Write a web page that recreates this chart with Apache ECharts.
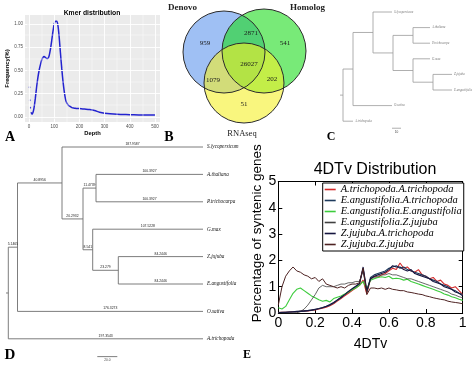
<!DOCTYPE html>
<html><head><meta charset="utf-8">
<script src="https://cdn.jsdelivr.net/npm/echarts@6/dist/echarts.min.js"></script>
<style>html,body{margin:0;padding:0;background:#fff}#c{width:474px;height:366px}</style>
</head><body><div id="c"></div>
<script>
// ---------------- Panel A : Kmer distribution ----------------
const kmerDepthDots = [2, 3, 5];
const kmerFreqDots = [0.32, 0.18, 0.10];
const kmerDepth = [8,12,16,20,25,30,35,40,45,50,55,60,65,70,75,80,85,90,95,100,105,110,115,120,125,130,135,140,145,150,155,160,170,180,190,200,220,240,260,280,300,350,400,450,500];
const kmerFreq = [0.05,0.03,0.05,0.10,0.20,0.32,0.42,0.50,0.56,0.61,0.64,0.65,0.64,0.63,0.63,0.66,0.73,0.82,0.92,1.00,1.03,1.03,0.98,0.85,0.68,0.52,0.38,0.27,0.19,0.15,0.13,0.12,0.10,0.095,0.09,0.09,0.085,0.08,0.07,0.05,0.04,0.03,0.025,0.02,0.02];
const kmerXTicks = [0,100,200,300,400,500];
const kmerXMinor = [50,150,250,350,450];
const kmerYTicks = [0,0.25,0.5,0.75,1.0];
const kmerYMinor = [0.125,0.375,0.625,0.875];

// ---------------- Panel B : Venn ----------------
const vennSets = ["Denovo","Homolog","RNAseq"];
const vennRegions = ["Denovo only","Denovo&Homolog","Homolog only","All","Denovo&RNAseq","Homolog&RNAseq","RNAseq only"];
const vennCounts = [959, 2871, 541, 26027, 1079, 202, 51];

// ---------------- Trees (panels C and D) ----------------
const treeLeaves = ["S.lycopersicum","A.thaliana","P.trichocarpa","G.max","Z.jujuba","E.angustifolia","O.sativa","A.trichopoda"];
const treeInternal = ["root","N1","N2","N3","N4","N5","N6"];
const treeChildren = [["N1","A.trichopoda"],["N2","O.sativa"],["S.lycopersicum","N3"],["N4","N5"],["A.thaliana","P.trichocarpa"],["G.max","N6"],["Z.jujuba","E.angustifolia"]];
// panel D node depths (drawn units, scale bar = 20)
const treeDInternalDepth = [0, 9.2, 53.7, 74.7, 87.7, 84.4, 110];
const treeDLeafDepth = [194.7,194.7,194.7,194.7,194.7,194.7,194.7,194.7];
const treeDInternalLabel = ["", "5.1465", "40.8956", "20.2932", "11.4739", "8.541", "23.279"];
const treeDLeafLabel = ["187.9587","100.3927","100.3927","107.5228","84.2446","84.2446","176.3273","197.3543"];
const treeDScale = 20, treeDScaleLabel = "20.0";
// panel C node depths
const treeCInternalDepth = [0, 10, 30, 50, 70, 70, 90];
const treeCLeafDepth = [49, 87, 87, 87, 109, 109, 49, 10];
const treeCScale = 9, treeCScaleLabel = "10";

// ---------------- Panel E : 4DTv ----------------
const fdtvBins = [0,0.02,0.04,0.06,0.08,0.10,0.12,0.14,0.16,0.18,0.20,0.22,0.24,0.26,0.28,0.30,0.32,0.34,0.36,0.38,0.40,0.42,0.44,0.46,0.48,0.50,0.52,0.54,0.56,0.58,0.60,0.62,0.64,0.66,0.68,0.70,0.72,0.74,0.76,0.78,0.80,0.82,0.84,0.86,0.88,0.90,0.92,0.94,0.96,0.98,1.00];
const fdtvNames = ["A.trichopoda.A.trichopoda","E.angustifolia.A.trichopoda","E.angustifolia.E.angustifolia","E.angustifolia.Z.jujuba","Z.jujuba.A.trichopoda","Z.jujuba.Z.jujuba"];
const fdtvAtriAtri = [0.02,0.03,0.03,0.04,0.05,0.05,0.06,0.07,0.08,0.10,0.12,0.15,0.18,0.22,0.28,0.35,0.45,0.55,0.65,0.75,0.85,0.95,1.05,1.25,0.72,1.30,1.40,1.35,1.45,1.50,1.60,1.70,1.65,1.90,1.70,1.75,1.60,1.55,1.65,1.45,1.40,1.30,1.35,1.20,1.25,1.10,1.05,0.95,1.00,0.85,0.70];
const fdtvEangAtri = [0.02,0.02,0.03,0.04,0.04,0.05,0.06,0.07,0.09,0.11,0.13,0.16,0.20,0.25,0.30,0.38,0.48,0.58,0.70,0.80,0.90,1.00,1.10,1.70,0.80,1.35,1.45,1.50,1.55,1.60,1.70,1.75,1.80,1.70,1.75,1.65,1.60,1.55,1.50,1.45,1.40,1.30,1.25,1.20,1.10,1.05,1.00,0.90,0.85,0.75,0.70];
const fdtvEangEang = [0.20,0.15,0.25,0.50,0.75,0.90,0.95,0.85,0.75,0.65,0.58,0.50,0.45,0.48,0.42,0.55,0.60,0.65,0.72,0.80,0.88,0.95,1.05,1.20,0.90,1.25,1.30,1.35,1.38,1.35,1.40,1.30,1.32,1.30,1.25,1.28,1.20,1.15,1.10,1.05,1.00,0.95,0.90,0.85,0.80,0.72,0.68,0.62,0.58,0.52,0.48];
const fdtvEangZjuj = [0.00,0.00,0.00,0.00,0.00,0.01,0.05,0.15,0.30,0.50,0.70,0.95,1.05,1.00,1.00,1.00,1.05,1.10,1.10,1.15,1.15,1.20,1.20,1.60,0.80,1.30,1.35,1.40,1.45,1.45,1.50,1.45,1.45,1.40,1.35,1.30,1.30,1.25,1.20,1.15,1.10,1.05,1.00,0.95,0.90,0.85,0.80,0.72,0.68,0.62,0.58];
const fdtvZjujAtri = [0.02,0.03,0.03,0.04,0.05,0.06,0.07,0.08,0.09,0.11,0.14,0.17,0.21,0.26,0.32,0.40,0.50,0.60,0.70,0.82,0.92,1.02,1.12,1.75,0.85,1.30,1.40,1.45,1.50,1.55,1.65,1.80,1.75,1.75,1.65,1.60,1.65,1.50,1.45,1.40,1.35,1.30,1.20,1.15,1.10,1.00,0.95,0.90,0.80,0.75,0.65];
const fdtvZjujZjuj = [0.30,1.00,1.40,1.60,1.75,1.60,1.55,1.45,1.40,1.30,1.35,1.20,1.30,1.10,1.05,1.00,0.95,1.00,0.95,1.05,1.10,1.10,1.15,1.70,0.70,0.95,0.95,0.92,0.95,0.90,0.95,0.90,0.88,0.85,0.85,0.80,0.78,0.75,0.72,0.70,0.65,0.62,0.58,0.55,0.52,0.50,0.45,0.42,0.40,0.38,0.35];
const fdtvSeries = [fdtvAtriAtri, fdtvEangAtri, fdtvEangEang, fdtvEangZjuj, fdtvZjujAtri, fdtvZjujZjuj];

// ================= styles / layout =================
const SANS = 'Liberation Sans', SERIF = 'Liberation Serif';
const fdtvColors = ['#d42a2a','#1d3a5c','#3ccc3c','#404040','#15153f','#4d2222'];
const fdtvWidths = [1.1,1.1,1.1,0.8,1.1,1.0];
const VENN_CIRCLES = [
  {cx:54, cy:52, r:41, fill:'rgba(80,140,235,0.55)'},
  {cx:94, cy:51, r:42, fill:'rgba(30,220,30,0.6)'},
  {cx:74, cy:83, r:40, fill:'rgba(245,240,40,0.6)'}
];
const VENN_LABEL_POS = [[35,43],[81,33],[115,43],[79,64],[43,80],[102,79],[74,104]];

function layoutTree(leafDepth, intDepth){
  const pos = {};
  treeLeaves.forEach((n,i)=>{ pos[n] = {x:leafDepth[i], y:i}; });
  function getY(n){
    if (pos[n]) return pos[n].y;
    const k = treeInternal.indexOf(n);
    const ys = treeChildren[k].map(getY);
    const y = (Math.min(...ys)+Math.max(...ys))/2;
    pos[n] = {x:intDepth[k], y:y};
    return y;
  }
  treeInternal.forEach(getY);
  const segs = [], branchLab = [];
  treeInternal.forEach((n,k)=>{
    const ys = treeChildren[k].map(c=>pos[c].y);
    segs.push([intDepth[k], Math.min(...ys), intDepth[k], Math.max(...ys)]);
    treeChildren[k].forEach(c=>{
      segs.push([intDepth[k], pos[c].y, pos[c].x, pos[c].y]);
    });
  });
  return {pos, segs};
}

function treeSeriesSet(o){
  const L = layoutTree(o.leafDepth, o.intDepth);
  const rootY = L.pos.root.y;
  const segs = L.segs.slice();
  segs.push([-o.stub, rootY, 0, rootY]);
  const ySB = o.scaleY;
  segs.push([o.scaleX, ySB, o.scaleX + o.scaleLen, ySB]);
  const out = [];
  out.push({
    type:'custom', xAxisIndex:o.axis, yAxisIndex:o.axis, clip:false, silent:true,
    data: segs, encode:{x:[0,2], y:[1,3]},
    renderItem:(p,api)=>{
      const a = api.coord([api.value(0),api.value(1)]), b = api.coord([api.value(2),api.value(3)]);
      return {type:'line', shape:{x1:a[0],y1:a[1],x2:b[0],y2:b[1]}, style:{stroke:o.color, lineWidth:o.lw}};
    }
  });
  // leaf labels
  out.push({
    type:'custom', xAxisIndex:o.axis, yAxisIndex:o.axis, clip:false, silent:true,
    data: treeLeaves.map((n,i)=>[o.leafDepth[i], i]),
    renderItem:(p,api)=>{
      const a = api.coord([api.value(0),api.value(1)]);
      return {type:'text', x:a[0]+o.leafGap, y:a[1], style:{text:treeLeaves[p.dataIndex], fontSize:o.leafFont, fontFamily:SERIF, fontStyle:'italic', fill:o.leafColor, align:'left', verticalAlign:'middle'}};
    }
  });
  // branch labels
  if (o.leafLabels){
    const bl = [];
    treeLeaves.forEach((n,i)=>{
      const par = treeInternal[treeChildren.findIndex(c=>c.indexOf(n)>=0)];
      const px = L.pos[par].x;
      bl.push([(px + L.pos[n].x)/2, L.pos[n].y, o.leafLabels[i]]);
    });
    treeInternal.forEach((n,k)=>{
      if (!o.intLabels[k]) return;
      const parIdx = treeChildren.findIndex(c=>c.indexOf(n)>=0);
      const px = L.pos[treeInternal[parIdx]].x;
      bl.push([(px + L.pos[n].x)/2, L.pos[n].y, o.intLabels[k]]);
    });
    out.push({
      type:'custom', xAxisIndex:o.axis, yAxisIndex:o.axis, clip:false, silent:true,
      data: bl.map(b=>[b[0],b[1]]),
      renderItem:(p,api)=>{
        const a = api.coord([api.value(0),api.value(1)]);
        return {type:'text', x:a[0], y:a[1]-1.5, style:{text:bl[p.dataIndex][2], fontSize:3.4, fontFamily:SANS, fill:'#222', align:'center', verticalAlign:'bottom'}};
      }
    });
  }
  // scale label
  out.push({
    type:'custom', xAxisIndex:o.axis, yAxisIndex:o.axis, clip:false, silent:true,
    data: [[o.scaleX + o.scaleLen/2, ySB]],
    renderItem:(p,api)=>{
      const a = api.coord([api.value(0),api.value(1)]);
      return {type:'text', x:a[0], y:a[1]+2, style:{text:o.scaleLabel, fontSize:3.2, fontFamily:SANS, fill:'#444', align:'center', verticalAlign:'top'}};
    }
  });
  return out;
}

const series = [];
// ----- Panel A series -----
const gridLineData = [];
kmerXTicks.forEach(v=>gridLineData.push({xAxis:v, lineStyle:{color:'#fff', width:0.9, type:'solid'}}));
kmerXMinor.forEach(v=>gridLineData.push({xAxis:v, lineStyle:{color:'#fff', width:0.45, type:'solid'}}));
kmerYTicks.forEach(v=>gridLineData.push({yAxis:v, lineStyle:{color:'#fff', width:0.9, type:'solid'}}));
kmerYMinor.forEach(v=>gridLineData.push({yAxis:v, lineStyle:{color:'#fff', width:0.45, type:'solid'}}));
series.push({
  type:'scatter', xAxisIndex:0, yAxisIndex:0, z:1, silent:true,
  data: kmerDepthDots.map((d,i)=>[d, kmerFreqDots[i]]),
  symbolSize:1.8, itemStyle:{color:'#2222cc'},
  markLine:{silent:true, symbol:['none','none'], label:{show:false}, animation:false, data:gridLineData}
});
series.push({
  type:'line', xAxisIndex:0, yAxisIndex:0, z:3, silent:true, smooth:0.3,
  data: kmerDepth.map((d,i)=>[d, kmerFreq[i]]),
  showSymbol:false, lineStyle:{color:'#2323cf', width:1.5}
});
// ----- Panel B series -----
series.push({
  type:'custom', xAxisIndex:1, yAxisIndex:1, clip:false, silent:true,
  data: vennSets.map((s,i)=>[i]),
  renderItem:(p,api)=>{
    const c = VENN_CIRCLES[p.dataIndex];
    const ctr = api.coord([c.cx, c.cy]);
    const r = Math.abs(api.size([c.r, c.r])[0]);
    return {type:'circle', shape:{cx:ctr[0], cy:ctr[1], r:r}, style:{fill:c.fill, stroke:null}};
  }
});
series.push({
  type:'custom', xAxisIndex:1, yAxisIndex:1, clip:false, silent:true,
  data: vennSets.map((s,i)=>[i]),
  renderItem:(p,api)=>{
    const c = VENN_CIRCLES[p.dataIndex];
    const ctr = api.coord([c.cx, c.cy]);
    const r = Math.abs(api.size([c.r, c.r])[0]);
    return {type:'circle', shape:{cx:ctr[0], cy:ctr[1], r:r}, style:{fill:null, stroke:'#2b2b2b', lineWidth:1}};
  }
});
series.push({
  type:'custom', xAxisIndex:1, yAxisIndex:1, clip:false, silent:true,
  data: vennCounts.map((v,i)=>[i, v]),
  renderItem:(p,api)=>{
    const pp = VENN_LABEL_POS[p.dataIndex];
    const a = api.coord(pp);
    return {type:'text', x:a[0], y:a[1], style:{text:String(api.value(1)), fontSize:7, fontFamily:SERIF, fill:'#1a1a1a', align:'center', verticalAlign:'middle'}};
  }
});
// ----- Panel C / D trees -----
series.push(...treeSeriesSet({axis:2, leafDepth:treeCLeafDepth, intDepth:treeCInternalDepth, color:'#9a9a9a', lw:0.8,
  leafGap:2, leafFont:3.2, leafColor:'#777', stub:3, scaleX:49, scaleLen:treeCScale, scaleY:7.45, scaleLabel:treeCScaleLabel}));
series.push(...treeSeriesSet({axis:3, leafDepth:treeDLeafDepth, intDepth:treeDInternalDepth, color:'#6e6e6e', lw:0.9,
  leafGap:4, leafFont:5.2, leafColor:'#111', stub:2.3, scaleX:89, scaleLen:treeDScale, scaleY:7.65, scaleLabel:treeDScaleLabel,
  leafLabels:treeDLeafLabel, intLabels:treeDInternalLabel}));
// ----- Panel E -----
fdtvSeries.forEach((arr,k)=>{
  series.push({
    type:'line', name:fdtvNames[k], xAxisIndex:4, yAxisIndex:4, silent:true,
    data: fdtvBins.map((x,i)=>[x, arr[i]]), showSymbol:false,
    lineStyle:{color:fdtvColors[k], width:fdtvWidths[k]}, itemStyle:{color:fdtvColors[k]}
  });
});

const hidden = {show:false};
const option = {
  animation:false,
  textStyle:{fontFamily:SANS},
  grid:[
    {left:25, top:15, width:135, height:107, show:true, backgroundColor:'#ebebeb', borderWidth:0},
    {left:170, top:0, width:150, height:140},
    {left:343, top:12, width:131, height:109.2},
    {left:8.3, top:147, width:240, height:191.8},
    {left:278.3, top:181.5, width:184.4, height:131.5}
  ],
  xAxis:[
    {gridIndex:0, type:'value', min:-16, max:520, splitLine:{show:false}, axisLine:{show:false},
     axisTick:{show:true, length:2, lineStyle:{color:'#333', width:0.6}, customValues:kmerXTicks},
     axisLabel:{fontSize:4.5, color:'#4d4d4d', margin:2, customValues:kmerXTicks},
     name:'Depth', nameLocation:'middle', nameGap:7, nameTextStyle:{fontSize:5.8, fontWeight:'bold', color:'#000'}},
    {gridIndex:1, type:'value', min:0, max:150, show:false},
    {gridIndex:2, type:'value', min:0, max:131, show:false},
    {gridIndex:3, type:'value', min:0, max:240, show:false},
    {gridIndex:4, type:'value', min:0, max:1, interval:0.2, position:'bottom',
     axisLine:{show:true, onZero:false, lineStyle:{color:'#000', width:1}},
     axisTick:{inside:true, length:4, lineStyle:{color:'#000'}},
     splitLine:{show:false},
     axisLabel:{fontSize:14, color:'#000', margin:3, fontFamily:SANS},
     name:'4DTv', nameLocation:'middle', nameGap:24, nameTextStyle:{fontSize:14, color:'#000', fontFamily:SANS}},
    {gridIndex:4, type:'value', min:0, max:1, interval:0.2, position:'top',
     axisLine:{show:true, onZero:false, lineStyle:{color:'#000', width:1}},
     axisTick:{inside:true, length:4, lineStyle:{color:'#000'}},
     splitLine:{show:false}, axisLabel:{show:false}}
  ],
  yAxis:[
    {gridIndex:0, type:'value', min:-0.054, max:1.097, splitLine:{show:false}, axisLine:{show:false},
     axisTick:{show:true, length:2, lineStyle:{color:'#333', width:0.6}, customValues:kmerYTicks},
     axisLabel:{fontSize:4.5, color:'#4d4d4d', margin:2, customValues:kmerYTicks, formatter:v=>v.toFixed(2)},
     name:'Frequency(%)', nameLocation:'middle', nameGap:12, nameTextStyle:{fontSize:5.8, fontWeight:'bold', color:'#000'}},
    {gridIndex:1, type:'value', min:0, max:140, inverse:true, show:false},
    {gridIndex:2, type:'value', min:0, max:7, inverse:true, show:false},
    {gridIndex:3, type:'value', min:0, max:7, inverse:true, show:false},
    {gridIndex:4, type:'value', min:0, max:5, interval:1, position:'left',
     axisLine:{show:true, onZero:false, lineStyle:{color:'#000', width:1}},
     axisTick:{inside:true, length:4, lineStyle:{color:'#000'}},
     splitLine:{show:false},
     axisLabel:{fontSize:14, color:'#000', margin:2, fontFamily:SANS},
     name:'Percentage of syntenic genes', nameLocation:'middle', nameGap:10,
     nameTextStyle:{fontSize:13.5, color:'#000', fontFamily:SANS, padding:[0,0,0,28]}},
    {gridIndex:4, type:'value', min:0, max:5, interval:1, position:'right',
     axisLine:{show:true, onZero:false, lineStyle:{color:'#000', width:1}},
     axisTick:{inside:true, length:4, lineStyle:{color:'#000'}},
     splitLine:{show:false}, axisLabel:{show:false}}
  ],
  legend:{
    data:fdtvNames, orient:'vertical', left:322.7, top:183,
    backgroundColor:'#fff', borderColor:'#000', borderWidth:1, padding:[1,2,1,2],
    icon:'rect', itemWidth:11, itemHeight:1.6, itemGap:0,
    textStyle:{fontFamily:SERIF, fontStyle:'italic', fontSize:10.5, color:'#000', lineHeight:10.8},
    selectedMode:false
  },
  graphic:{elements:[
    {type:'text', x:92, y:13, style:{text:'Kmer distribution', fontSize:6.8, fontWeight:'bold', fontFamily:SANS, fill:'#000', align:'center', verticalAlign:'middle'}},
    {type:'text', x:168, y:8, style:{text:vennSets[0], fontSize:9, fontWeight:'bold', fontFamily:SERIF, fill:'#222', align:'left', verticalAlign:'middle'}},
    {type:'text', x:290, y:8, style:{text:vennSets[1], fontSize:9, fontWeight:'bold', fontFamily:SERIF, fill:'#222', align:'left', verticalAlign:'middle'}},
    {type:'text', x:242, y:134, style:{text:vennSets[2], fontSize:8.5, fontFamily:SERIF, fill:'#222', align:'center', verticalAlign:'middle'}},
    {type:'text', x:375, y:170, style:{text:'4DTv Distribution', fontSize:16, fontFamily:SANS, fill:'#000', align:'center', verticalAlign:'middle'}},
    {type:'text', x:10, y:137, style:{text:'A', fontSize:14, fontWeight:'bold', fontFamily:SERIF, fill:'#000', align:'center', verticalAlign:'middle'}},
    {type:'text', x:169, y:137, style:{text:'B', fontSize:14, fontWeight:'bold', fontFamily:SERIF, fill:'#000', align:'center', verticalAlign:'middle'}},
    {type:'text', x:331, y:137, style:{text:'C', fontSize:12, fontWeight:'bold', fontFamily:SERIF, fill:'#000', align:'center', verticalAlign:'middle'}},
    {type:'text', x:10, y:355, style:{text:'D', fontSize:15, fontWeight:'bold', fontFamily:SERIF, fill:'#000', align:'center', verticalAlign:'middle'}},
    {type:'text', x:247, y:355, style:{text:'E', fontSize:12, fontWeight:'bold', fontFamily:SERIF, fill:'#000', align:'center', verticalAlign:'middle'}}
  ]},
  series:series
};
const chart = echarts.init(document.getElementById('c'));
chart.setOption(option);
</script>
</body></html>
